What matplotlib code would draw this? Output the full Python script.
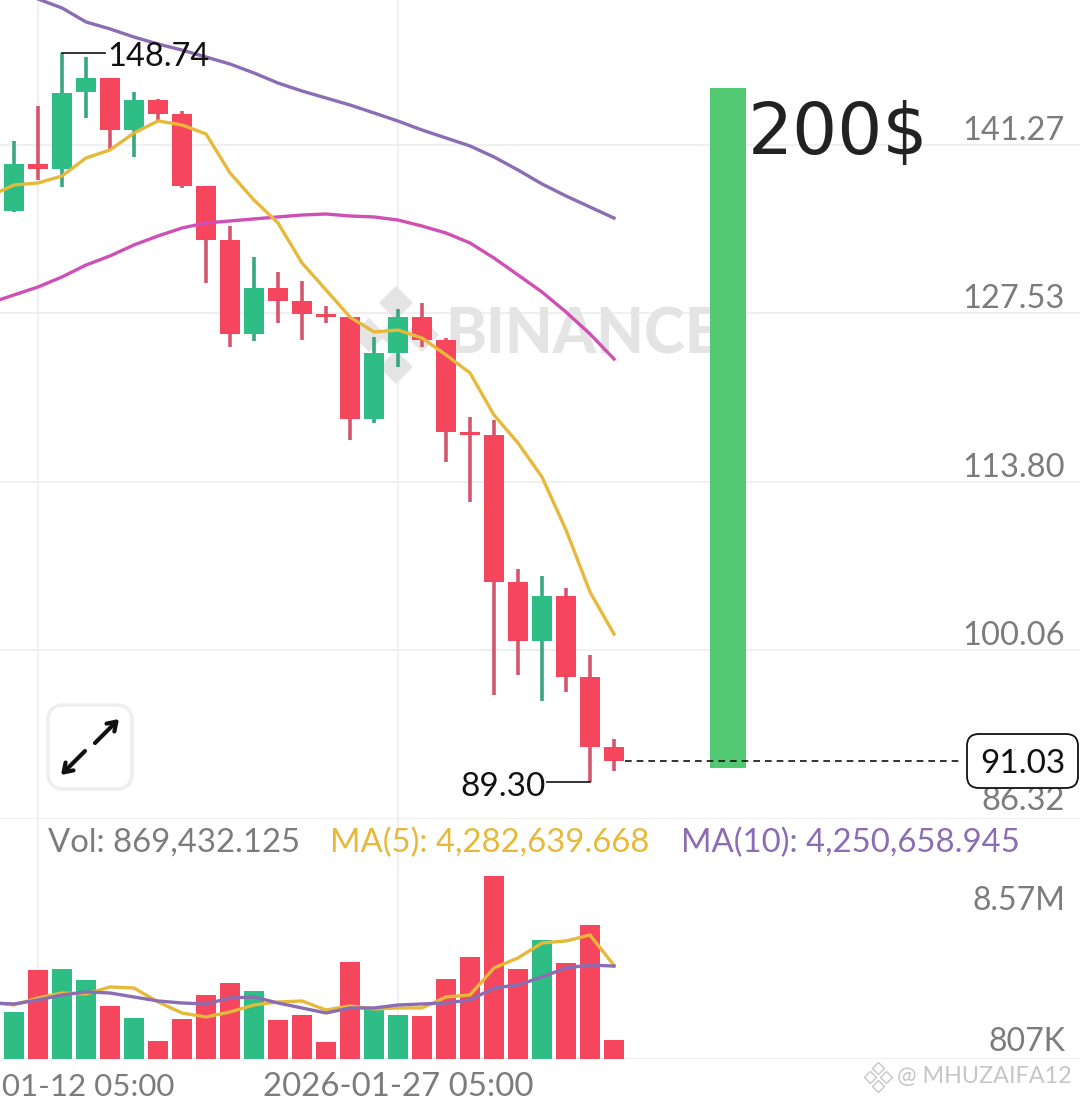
import matplotlib
matplotlib.use("Agg")
import matplotlib.pyplot as plt
from matplotlib.patches import FancyBboxPatch
from matplotlib.transforms import offset_copy
import numpy as np

RED = "#f6465d"
RED_WICK = "#d4566c"
GREEN = "#2ebd85"
GREEN_WICK = "#38a583"
YELLOW = "#e6b93a"
PURPLE = "#8a6db3"
MAGENTA = "#d04fb4"
GRID = "#eeeeee"
GRAY = "#7c7c7c"

# one entry per candle, first one is cut off by the left edge
index = list(range(-1, 26))
opens = [139.70, 135.89, 139.72, 139.31, 145.59, 146.73, 142.49, 144.94, 143.80, 137.93,
         133.52, 125.86, 129.61, 128.55, 127.49, 127.25, 118.93, 124.31, 127.25, 125.37,
         117.87, 117.62, 105.64, 100.83, 104.50, 97.89, 92.18]
closes = [135.89, 139.72, 139.31, 145.51, 146.73, 142.49, 144.94, 143.80, 137.93, 133.52,
          125.86, 129.61, 128.55, 127.49, 127.25, 118.93, 124.31, 127.25, 125.37, 117.87,
          117.62, 105.64, 100.83, 104.50, 97.89, 92.18, 91.03]
highs = [140.50, 141.60, 144.45, 148.74, 148.45, 146.73, 145.59, 145.02, 144.04, 137.93,
         134.66, 132.14, 130.91, 130.18, 128.14, 127.25, 125.61, 127.90, 128.39, 125.53,
         119.09, 118.85, 106.70, 106.13, 105.15, 99.68, 92.83]
lows = [135.60, 135.81, 138.42, 137.85, 143.47, 140.94, 140.29, 143.31, 137.76, 130.02,
        124.80, 125.29, 126.76, 125.37, 126.76, 117.22, 118.60, 123.17, 124.80, 115.42,
        112.16, 96.42, 98.05, 95.93, 96.67, 89.30, 90.23]
ma_yellow = [137.11, 138.01, 138.17, 138.74, 140.21, 140.86, 142.25, 143.23, 142.90, 142.17,
             138.99, 136.78, 134.91, 131.65, 129.45, 127.24, 126.02, 126.18, 125.53, 124.15,
             122.68, 119.25, 116.97, 114.20, 109.88, 104.82, 101.39]
ma_magenta = [128.39, 129.04, 129.69, 130.51, 131.48, 132.22, 133.12, 133.85, 134.50, 134.91,
              135.07, 135.24, 135.40, 135.56, 135.64, 135.48, 135.40, 135.15, 134.66, 134.09,
              133.28, 132.05, 130.67, 129.28, 127.65, 125.86, 123.82]
ma_purple = [155.60, 154.40, 153.17, 152.44, 151.30, 150.73, 150.07, 149.50, 149.01, 148.44,
             147.87, 147.14, 146.32, 145.67, 145.10, 144.53, 143.88, 143.22, 142.49, 141.84,
             141.19, 140.29, 139.23, 138.09, 137.11, 136.21, 135.31]

volume = [1.007, 2.151, 4.073, 4.118, 3.615, 2.425, 1.876, 0.824, 1.830, 2.929, 3.478, 3.112,
          1.785, 2.013, 0.778, 4.439, 2.334, 2.013, 1.968, 3.661, 4.668, 8.374, 4.118, 5.445,
          4.393, 6.132, 0.869]
vol_ma5 = [2.608, 2.471, 2.791, 3.020, 2.974, 3.295, 3.249, 2.608, 2.105, 1.922, 2.151, 2.471,
           2.608, 2.654, 2.242, 2.425, 2.288, 2.334, 2.334, 2.837, 2.929, 4.164, 4.622, 5.308,
           5.400, 5.674, 4.283]
vol_ma10 = [2.563, 2.517, 2.700, 2.929, 3.066, 3.020, 2.837, 2.654, 2.563, 2.517, 2.791, 2.837,
            2.563, 2.334, 2.105, 2.334, 2.334, 2.471, 2.517, 2.563, 2.700, 3.249, 3.386, 3.752,
            4.164, 4.301, 4.251]

price_ticks = [141.27, 127.53, 113.80, 100.06, 86.32]
price_labels = ["141.27", "127.53", "113.80", "100.06", "86.32"]
date_ticks = [1, 16]
date_labels = ["01-12 05:00", "2026-01-27 05:00"]
last_price = 91.03
target_bar = [90.47, 145.92]

W, H = 1080, 1101
plt.rcParams["font.family"] = ["Lato", "DejaVu Sans"]
fig = plt.figure(figsize=(W / 100, H / 100), dpi=100, facecolor="white")
xlim = (-14 / 24, (W - 14) / 24)

ax = fig.add_axes([0, (H - 819) / H, 1, 819 / H])
ax.set_xlim(xlim)
ax.set_ylim(86.31, 153.09)
vax = fig.add_axes([0, (H - 1059) / H, 1, 240 / H])
vax.set_xlim(xlim)
vax.set_ylim(0, 10.98)
for a in (ax, vax):
    a.set_facecolor("none")
    for s in a.spines.values():
        s.set_visible(False)
    a.set_yticks([])
    a.tick_params(length=0)
    a.set_xticks([])
    for d in date_ticks:
        a.axvline(d, color=GRID, lw=1.2, zorder=0)

# overlay in pixel coordinates for the chrome
ov = fig.add_axes([0, 0, 1, 1], zorder=10)
ov.set_xlim(0, W)
ov.set_ylim(H, 0)
ov.axis("off")

for p, lab in zip(price_ticks, price_labels):
    ax.axhline(p, color=GRID, lw=1.2, zorder=0)
    # the bottom label sits a little higher than the rest
    dy = 3 if lab == "86.32" else -1
    tr = offset_copy(ax.get_yaxis_transform(), fig=fig, x=-15, y=dy, units="dots")
    ax.text(1, p, lab, transform=tr, ha="right", va="bottom", fontsize=23.5, color=GRAY, clip_on=False)
vax.axhline(0, color=GRID, lw=1.2, zorder=0)

# BINANCE watermark behind the candles
ax.text((445 - 14) / 24, 125.8, "BINANCE", fontsize=44.5, fontweight="black", color="#e4e4e4",
        va="center", ha="left", zorder=1)
ax.plot([15.9, 15.9, 15.9, 14.8, 17.0], [125.8, 128.4, 123.2, 125.8, 125.8], ls="", marker="D",
        ms=17, color="#e4e4e4", mew=0, zorder=1)

colors = [GREEN if c >= o else RED for o, c in zip(opens, closes)]
wicks = [GREEN_WICK if c >= o else RED_WICK for o, c in zip(opens, closes)]
ax.vlines(index, lows, highs, colors=wicks, lw=2.6, zorder=2)
bottoms = np.minimum(opens, closes)
heights = np.maximum(np.abs(np.array(closes) - np.array(opens)), 0.25)
ax.bar(index, heights, bottom=bottoms, width=0.87, color=colors, zorder=3)

ax.plot(index, ma_purple, color=PURPLE, lw=2.4, zorder=4)
ax.plot(index, ma_magenta, color=MAGENTA, lw=2.4, zorder=4)
ax.plot(index, ma_yellow, color=YELLOW, lw=2.4, zorder=4)

# hand drawn target bar
ax.bar([29.75], [target_bar[1] - target_bar[0]], bottom=target_bar[0], width=1.5, color="#52c873", zorder=3)
ax.text(748 / 24 - 14 / 24, 142.15, "200$", fontsize=51, family="DejaVu Sans", color="#222222",
        va="center", ha="left", zorder=5)

ax.plot([25.45, 39.5], [last_price, last_price], color="#111111", lw=1.2, ls=(0, (4, 3)), zorder=5)
ax.plot([2, 3.8], [highs[3], highs[3]], color="#111111", lw=1.2, zorder=5)
ax.plot([24, 22.2], [lows[25], lows[25]], color="#111111", lw=1.2, zorder=5)
ax.text(3.88, highs[3] - 0.3, "148.74", fontsize=23.5, color="#111111", va="center", ha="left", zorder=5)
ax.text(22.15, lows[25] - 0.4, "89.30", fontsize=24, color="#111111", va="center", ha="right", zorder=5)

# volume pane
vax.bar(index, volume, width=0.87, color=colors, zorder=2)
vax.plot(index, vol_ma5, color=YELLOW, lw=2.4, zorder=3)
vax.plot(index, vol_ma10, color=PURPLE, lw=2.4, zorder=3)

# text and chrome
ov.add_patch(FancyBboxPatch((972, 739), 101, 44, boxstyle="round,pad=5,rounding_size=12", fc="white", ec="#111111", lw=1.3, zorder=3))
ov.text(1022.5, 764, "91.03", fontsize=24, color="#111111", ha="center", va="center", zorder=4)

ov.text(48, 843, "Vol: 869,432.125", fontsize=23.7, color=GRAY, va="center", ha="left")
ov.text(330, 843, "MA(5): 4,282,639.668", fontsize=23.7, color=YELLOW, va="center", ha="left")
ov.text(681, 843, "MA(10): 4,250,658.945", fontsize=23.7, color=PURPLE, va="center", ha="left")
ov.text(1065, 901, "8.57M", fontsize=23, color=GRAY, va="center", ha="right")
ov.text(1065, 1042, "807K", fontsize=23, color=GRAY, va="center", ha="right")
ov.text(174, 1086.5, date_labels[0], fontsize=22.5, color=GRAY, va="center", ha="right")
ov.text(398, 1086.5, date_labels[1], fontsize=23.8, color=GRAY, va="center", ha="center")

ov.add_patch(FancyBboxPatch((54, 711), 72, 72, boxstyle="round,pad=6,rounding_size=16", fc="white", ec="#eeeeee", lw=2.5))
ov.annotate("", xy=(119, 719), xytext=(95, 743), arrowprops=dict(arrowstyle="->,head_length=0.6,head_width=0.4", lw=3, color="#111111", shrinkA=0, shrinkB=0))
ov.annotate("", xy=(61, 775), xytext=(85, 751), arrowprops=dict(arrowstyle="->,head_length=0.6,head_width=0.4", lw=3, color="#111111", shrinkA=0, shrinkB=0))

ov.text(1072, 1077, "@ MHUZAIFA12", fontsize=16.8, color="#c6c6c6", va="center", ha="right")
ov.plot([878, 878, 870, 886], [1068, 1086, 1077, 1077], ls="", marker="D", ms=6, mfc="none", mec="#c6c6c6", mew=1)

fig.savefig("out.png", dpi=100)
